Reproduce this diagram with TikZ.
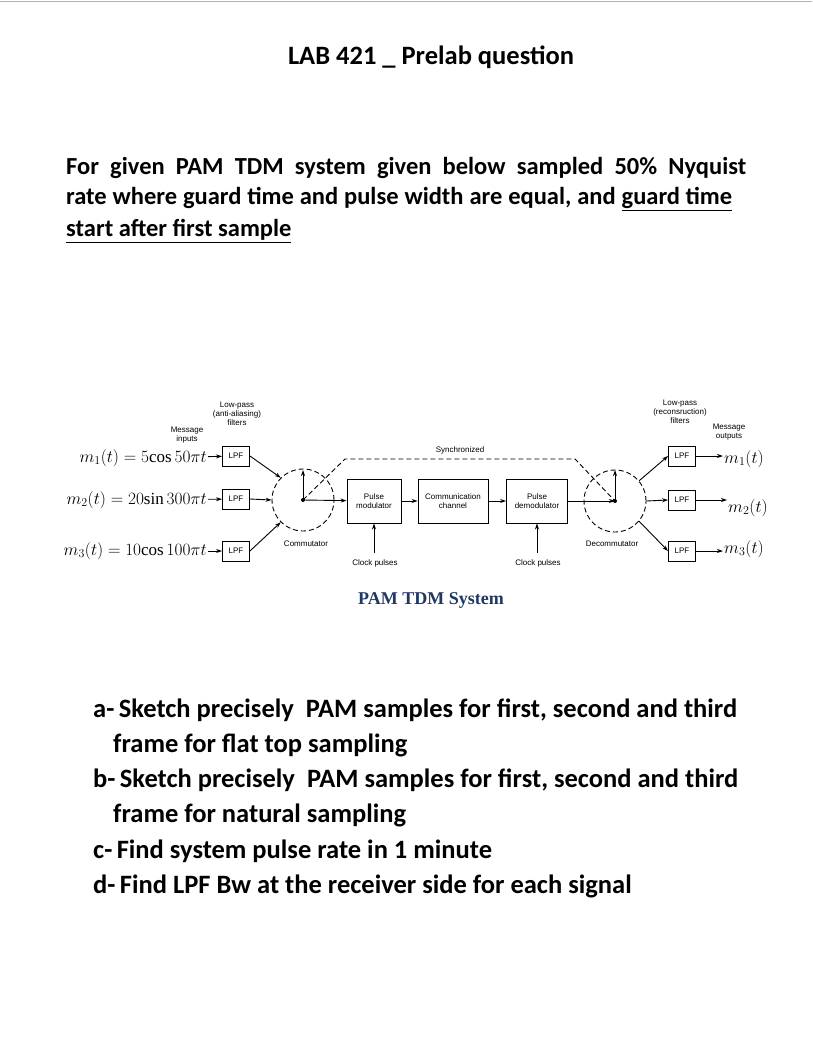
\documentclass[tikz,border=0pt]{standalone}
\usepackage{fontspec}
\setmainfont{Carlito}
\newfontfamily\diagfont{Liberation Sans}
\newfontfamily\timesf{Liberation Serif}
\usetikzlibrary{arrows.meta}
\definecolor{pamblue}{RGB}{31,56,100}
\newcommand{\tf}[1]{\hbox{\timesf #1}}
\begin{document}
\begin{tikzpicture}[x=1pt,y=-1pt,
  lbl/.style={font=\diagfont\fontsize{8}{9}\selectfont,align=center,inner sep=0},
  box/.style={draw,line width=0.9pt,font=\diagfont\fontsize{8}{9}\selectfont,align=center,inner sep=1pt},
  lpf/.style={box,minimum width=27pt,minimum height=20pt},
  blk/.style={box,minimum width=54pt,minimum height=44pt},
  arr/.style={-{Stealth[length=6pt,width=4pt]},line width=0.9pt},
  dsh/.style={dashed,dash pattern=on 5pt off 3pt,line width=0.9pt},
  q/.style={anchor=west,font=\bfseries\fontsize{26.5}{30}\selectfont,inner sep=0},
  pl/.style={anchor=west,font=\bfseries\fontsize{24.5}{28}\selectfont,inner sep=0},
  mth/.style={font=\fontsize{17}{19}\selectfont,inner sep=1pt}]
\useasboundingbox (0,0) rectangle (812,1054);
\fill[white] (0,0) rectangle (812,1054);
\draw[gray!60,line width=1pt] (0,1.5) -- (812,1.5);
\node[font=\bfseries\fontsize{26.5}{30}\selectfont] (title) at (431,57) {LAB 421 \_ Prelab question};
\node[pl] (p1) at (66,168) {\makebox[680pt][s]{For given PAM TDM system given below sampled 50\% Nyquist}};
\node[pl] (p2) at (66,199) {\makebox[666pt][s]{rate where guard time and pulse width are equal, and \underline{guard time}}};
\node[pl] (p3) at (66,231) {\underline{start after first sample}};
% left side
\node[lpf] (l1) at (236,456) {LPF};
\node[lpf] (l2) at (236,499) {LPF};
\node[lpf] (l3) at (236,551) {LPF};
\node[mth,anchor=east] (m1) at (208,458) {$m_1(t)=5\tf{cos}\,50\pi t$};
\node[mth,anchor=east] (m2) at (208,500) {$m_2(t)=20\tf{sin}\,300\pi t$};
\node[mth,anchor=east] (m3) at (208,551) {$m_3(t)=10\tf{cos}\,100\pi t$};
\draw[arr] (m1) -- (l1); \draw[arr] (m2) -- (l2); \draw[arr] (m3) -- (l3);
\node[lbl] (lpl) at (237,414) {Low-pass\\(anti-aliasing)\\filters};
\node[lbl] (mi) at (187,435) {Message\\inputs};
\node[draw,dsh,circle,minimum size=62pt,inner sep=0] (com) at (303,500) {};
\coordinate (cc) at (303,500);
\fill (cc) circle (2pt);
\draw[arr] (l1.east) -- (com.135);
\draw[arr] (l2.east) -- (com.west);
\draw[arr] (l3.east) -- (com.225);
\coordinate (ctop) at (303,470);
\draw[arr] (cc) -- (ctop);
\node[lbl] (coml) at (306,544) {Commutator};
\node[blk] (pm) at (374,501) {Pulse\\modulator};
\node[blk,minimum width=70pt] (ch) at (453,501) {Communication\\channel};
\node[blk,minimum width=61pt] (pd) at (537,501) {Pulse\\demodulator};
\draw[arr] (cc) -- (pm); \draw[arr] (pm) -- (ch); \draw[arr] (ch) -- (pd);
\coordinate (ck1) at (374,553); \coordinate (ck2) at (537,553);
\draw[arr] (ck1) -- (pm.south); \draw[arr] (ck2) -- (pd.south);
\node[lbl] (cl1) at (375,563) {Clock pulses};
\node[lbl] (cl2) at (538,563) {Clock pulses};
% right side
\node[draw,dsh,circle,minimum size=62pt,inner sep=0] (dec) at (615,501) {};
\coordinate (dc) at (615,501);
\fill (dc) circle (2pt);
\coordinate (dtop) at (615,470);
\draw[arr] (dc) -- (dtop);
\draw[arr] (pd) -- (dc);
\coordinate (s1) at (345,459); \coordinate (s2) at (575,459);
\draw[dsh] (cc) -- (s1) -- (s2) -- (dc);
\node[lbl] (syn) at (460,450) {Synchronized};
\node[lbl] (decl) at (612,544) {Decommutator};
\node[lpf] (r1) at (682,456) {LPF};
\node[lpf] (r2) at (682,500) {LPF};
\node[lpf] (r3) at (682,551) {LPF};
\draw[arr] (dec.40) -- (r1.west);
\draw[arr] (dec.east) -- (r2.west);
\draw[arr] (dec.-40) -- (r3.west);
\node[mth,anchor=west] (o1) at (723,459) {$m_1(t)$};
\node[mth,anchor=west] (o2) at (727,508) {$m_2(t)$};
\node[mth,anchor=west] (o3) at (723,549) {$m_3(t)$};
\draw[arr] (r1) -- (o1.west|-r1); \draw[arr] (r2) -- (o2.west|-r2); \draw[arr] (r3) -- (o3.west|-r3);
\node[lbl] (rpl) at (680,412) {Low-pass\\(reconsruction)\\filters};
\node[lbl] (mo) at (729,432) {Message\\outputs};
\node[font=\timesf\bfseries\fontsize{18}{21}\selectfont,text=pamblue] (pam) at (431,600) {PAM TDM System};
% questions
\node[q] (qa1) at (93,710) {a-\,Sketch precisely \ PAM samples for first, second and third};
\node[q] (qa2) at (113,745) {frame for flat top sampling};
\node[q] (qb1) at (93,780) {b-\,Sketch precisely \ PAM samples for first, second and third};
\node[q] (qb2) at (113,815) {frame for natural sampling};
\node[q] (qc) at (93,851) {c-\,Find system pulse rate in 1 minute};
\node[q] (qd) at (93,886) {d-\,Find LPF Bw at the receiver side for each signal};
\end{tikzpicture}
\end{document}
